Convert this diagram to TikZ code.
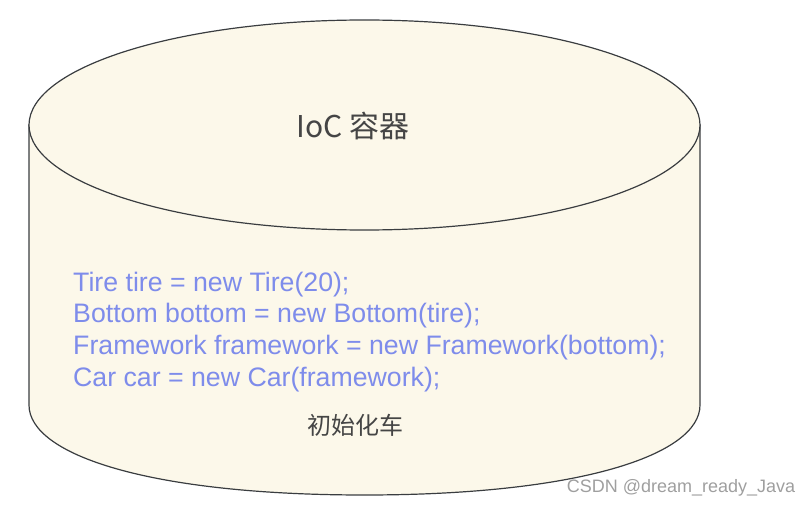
\documentclass[tikz,border=0pt]{standalone}
\usepackage{fontspec}
\setmainfont{Liberation Sans}
\newfontfamily\cjk{Noto Sans CJK SC}
\definecolor{cream}{HTML}{FCF8EA}
\definecolor{edge}{HTML}{3A3D40}
\definecolor{codeblue}{HTML}{7E8CEB}
\definecolor{labelgray}{HTML}{454545}
\tikzset{
  cyl/.style={fill=cream, draw=edge, line width=1.2pt},
  codeline/.style={anchor=base west, inner sep=0pt, text=codeblue, font=\fontsize{26.7}{31.5}\selectfont},
  txtlbl/.style={inner sep=0pt, text=labelgray},
  wmark/.style={inner sep=0pt, text=gray!75, font=\fontsize{18}{20}\selectfont}
}
\begin{document}
\begin{tikzpicture}[x=1pt,y=1pt]
\useasboundingbox (0,0) rectangle (808,507);
% body
\path[cyl] (29,382) -- (29,102) .. controls (29,52) and (150,12) .. (364.5,12)
  .. controls (579,12) and (700,52) .. (700,102) -- (700,382) -- cycle;
% top
\path[cyl] (364.5,382) ellipse[x radius=335.5, y radius=105];
\node[txtlbl, font=\cjk\fontsize{30}{32}\selectfont] (title) at (353,381) {IoC 容器};
\node[codeline] (l1) at (73,215.5) {Tire tire = new Tire(20);};
\node[codeline] (l2) at (73,184.5) {Bottom bottom = new Bottom(tire);};
\node[codeline] (l3) at (73,152.5) {Framework framework = new Framework(bottom);};
\node[codeline] (l4) at (73,120.5) {Car car = new Car(framework);};
\node[txtlbl, font=\cjk\fontsize{24}{26}\selectfont] (init) at (355,82) {初始化车};
\node[wmark] (wm) at (681,19) {CSDN @dream\_ready\_Java};
\end{tikzpicture}
\end{document}
